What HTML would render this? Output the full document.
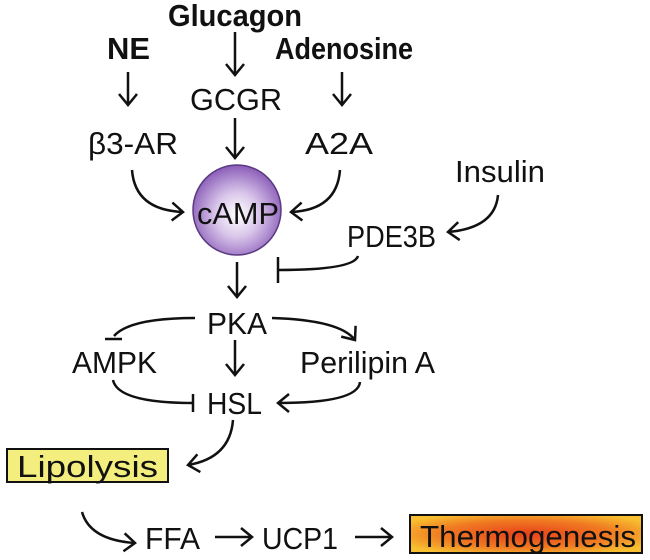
<!DOCTYPE html>
<html><head><style>body{margin:0;background:#fff}svg{display:block}text{font-family:"Liberation Sans",sans-serif;font-size:31px;fill:#111}</style></head>
<body>
<svg width="650" height="560" viewBox="0 0 650 560">
<defs>
<radialGradient id="cg" cx="50%" cy="55%" r="55%"><stop offset="0" stop-color="#fff"/><stop offset="0.45" stop-color="#d9c6ea"/><stop offset="1" stop-color="#8a5cb8"/></radialGradient>
<radialGradient id="tg" cx="50%" cy="50%" r="60%"><stop offset="0" stop-color="#e8401a"/><stop offset="0.6" stop-color="#f07a22"/><stop offset="1" stop-color="#f8c030"/></radialGradient>
<marker id="a" markerWidth="14" markerHeight="20" refX="12" refY="10" orient="auto" markerUnits="userSpaceOnUse"><path d="M1,1 L12,10 L1,19" fill="none" stroke="#111" stroke-width="2.5"/></marker>
</defs>
<g fill="none" stroke="#111" stroke-width="2.5">
<line x1="235" y1="32" x2="235" y2="75" marker-end="url(#a)"/>
<line x1="128" y1="72" x2="128" y2="105" marker-end="url(#a)"/>
<line x1="342" y1="72" x2="342" y2="105" marker-end="url(#a)"/>
<line x1="235" y1="118" x2="235" y2="158" marker-end="url(#a)"/>
<path d="M132,170 Q135,210 183,212" marker-end="url(#a)"/>
<path d="M340,170 Q337,210 291,212" marker-end="url(#a)"/>
<path d="M498,195 Q495,228 448,232" marker-end="url(#a)"/>
<path d="M358,256 Q354,270 278,270"/><line x1="278" y1="257" x2="278" y2="283"/>
<line x1="237" y1="262" x2="237" y2="297" marker-end="url(#a)"/>
<path d="M195,318 Q130,318 114,336"/><line x1="105" y1="339" x2="122" y2="339"/>
<path d="M272,318 Q340,320 355,340" marker-end="url(#a)"/>
<line x1="235" y1="340" x2="235" y2="375" marker-end="url(#a)"/>
<path d="M113,380 Q118,403 193,403"/><line x1="193" y1="394" x2="193" y2="412"/>
<path d="M360,382 Q358,403 278,403" marker-end="url(#a)"/>
<path d="M233,420 Q230,458 188,465" marker-end="url(#a)"/>
<path d="M82,512 Q90,540 135,543" marker-end="url(#a)"/>
<line x1="215" y1="537" x2="252" y2="537" marker-end="url(#a)"/>
<line x1="355" y1="537" x2="392" y2="537" marker-end="url(#a)"/>
</g>
<ellipse cx="237" cy="210" rx="44" ry="45" fill="url(#cg)" stroke="#5a3a80" stroke-width="1.5"/>
<rect x="7" y="449" width="161" height="33" fill="#f3ee7e" stroke="#111" stroke-width="2"/>
<rect x="410" y="515" width="232" height="38" fill="url(#tg)" stroke="#111" stroke-width="2"/>
<g>
<text x="168" y="26" textLength="134" lengthAdjust="spacingAndGlyphs" font-weight="bold" font-size="29">Glucagon</text>
<text x="107" y="59" textLength="43" lengthAdjust="spacingAndGlyphs" font-weight="bold" font-size="29">NE</text>
<text x="275" y="59" textLength="138" lengthAdjust="spacingAndGlyphs" font-weight="bold" font-size="29">Adenosine</text>
<text x="190" y="110" textLength="92" lengthAdjust="spacingAndGlyphs">GCGR</text>
<text x="88" y="154" textLength="90" lengthAdjust="spacingAndGlyphs">β3-AR</text>
<text x="305" y="154" textLength="68" lengthAdjust="spacingAndGlyphs">A2A</text>
<text x="455" y="182" textLength="90" lengthAdjust="spacingAndGlyphs">Insulin</text>
<text x="197" y="224" textLength="82" lengthAdjust="spacingAndGlyphs">cAMP</text>
<text x="347" y="247" textLength="89" lengthAdjust="spacingAndGlyphs">PDE3B</text>
<text x="207" y="334" textLength="60" lengthAdjust="spacingAndGlyphs">PKA</text>
<text x="72" y="373" textLength="85" lengthAdjust="spacingAndGlyphs">AMPK</text>
<text x="300" y="373" textLength="135" lengthAdjust="spacingAndGlyphs">Perilipin A</text>
<text x="207" y="414" textLength="55" lengthAdjust="spacingAndGlyphs">HSL</text>
<text x="17" y="477" textLength="141" lengthAdjust="spacingAndGlyphs" font-size="32">Lipolysis</text>
<text x="145" y="549" textLength="55" lengthAdjust="spacingAndGlyphs">FFA</text>
<text x="262" y="549" textLength="76" lengthAdjust="spacingAndGlyphs">UCP1</text>
<text x="420" y="547" textLength="216" lengthAdjust="spacingAndGlyphs" font-size="32">Thermogenesis</text>
</g>
</svg>
</body></html>
